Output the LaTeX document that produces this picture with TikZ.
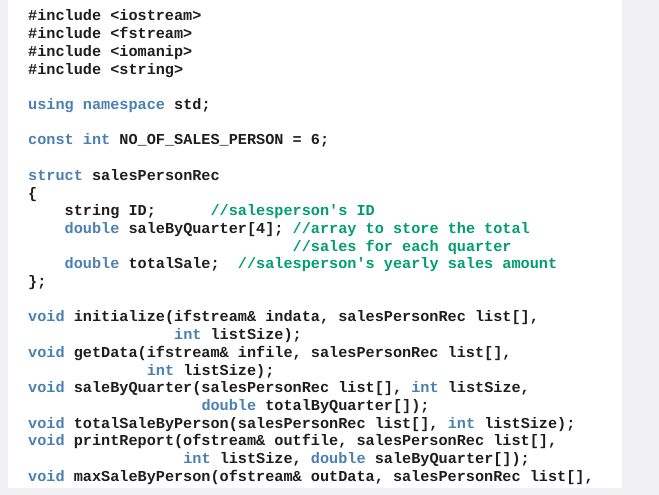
\documentclass[tikz,border=0pt]{standalone}
\usepackage{fontspec}
\setmonofont{Liberation Mono}
\definecolor{kwc}{RGB}{74,128,178}
\definecolor{cmc}{RGB}{0,158,110}
\definecolor{txc}{RGB}{30,30,30}
\definecolor{bgc}{RGB}{240,240,242}
\newcommand{\kw}[1]{\textcolor{kwc}{#1}}
\newcommand{\cm}[1]{\textcolor{cmc}{#1}}
\newcommand{\codeln}[3]{\node[codeline] (#1) at (28,{-21-#2*17.7}) {#3};}
\begin{document}
\begin{tikzpicture}[x=1pt,y=1pt,
  codeline/.style={anchor=base west,inner sep=0pt,text=txc,font=\fontsize{15.2}{17.7}\selectfont\ttfamily\bfseries}]
\useasboundingbox (0,0) rectangle (659,-495);
\fill[bgc] (0,0) rectangle (659,-495);
\fill[white] (8,0) rectangle (622,-488);
\codeln{l0}{0}{\#include <iostream>}
\codeln{l1}{1}{\#include <fstream>}
\codeln{l2}{2}{\#include <iomanip>}
\codeln{l3}{3}{\#include <string>}
\codeln{l5}{5}{\kw{using namespace} std;}
\codeln{l7}{7}{\kw{const int} NO\_OF\_SALES\_PERSON = 6;}
\codeln{l9}{9}{\kw{struct} salesPersonRec}
\codeln{l10}{10}{\{}
\codeln{l11}{11}{~~~~string ID;~~~~~~\cm{//salesperson's ID}}
\codeln{l12}{12}{~~~~\kw{double} saleByQuarter[4]; \cm{//array to store the total}}
\codeln{l13}{13}{~~~~~~~~~~~~~~~~~~~~~~~~~~~~~\cm{//sales for each quarter}}
\codeln{l14}{14}{~~~~\kw{double} totalSale;~~\cm{//salesperson's yearly sales amount}}
\codeln{l15}{15}{\};}
\codeln{l17}{17}{\kw{void} initialize(ifstream\& indata, salesPersonRec list[],}
\codeln{l18}{18}{~~~~~~~~~~~~~~~~\kw{int} listSize);}
\codeln{l19}{19}{\kw{void} getData(ifstream\& infile, salesPersonRec list[],}
\codeln{l20}{20}{~~~~~~~~~~~~~\kw{int} listSize);}
\codeln{l21}{21}{\kw{void} saleByQuarter(salesPersonRec list[], \kw{int} listSize,}
\codeln{l22}{22}{~~~~~~~~~~~~~~~~~~~\kw{double} totalByQuarter[]);}
\codeln{l23}{23}{\kw{void} totalSaleByPerson(salesPersonRec list[], \kw{int} listSize);}
\codeln{l24}{24}{\kw{void} printReport(ofstream\& outfile, salesPersonRec list[],}
\codeln{l25}{25}{~~~~~~~~~~~~~~~~~\kw{int} listSize, \kw{double} saleByQuarter[]);}
\codeln{l26}{26}{\kw{void} maxSaleByPerson(ofstream\& outData, salesPersonRec list[],}
\end{tikzpicture}
\end{document}
